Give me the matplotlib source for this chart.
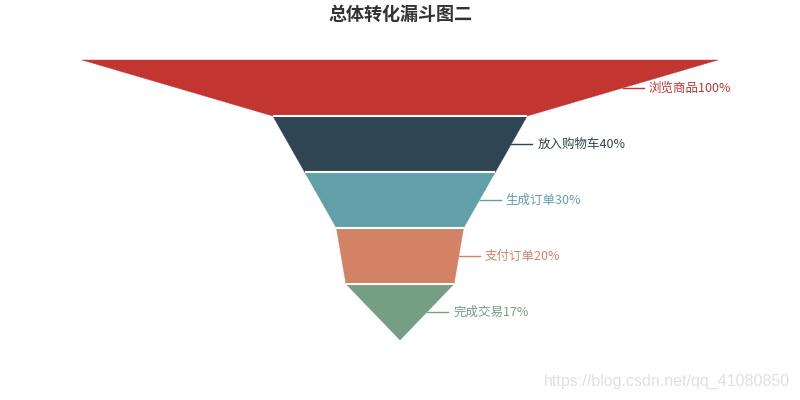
import matplotlib
matplotlib.use("Agg")
import matplotlib.pyplot as plt
from matplotlib.patches import Polygon

plt.rcParams['font.family'] = ['Noto Sans CJK SC', 'DejaVu Sans']

stages = ["浏览商品", "放入购物车", "生成订单", "支付订单", "完成交易"]
values = [100, 40, 30, 20, 17]
colors = ["#c23531", "#2f4554", "#61a0a8", "#d48265", "#749f83"]
title = "总体转化漏斗图二"
watermark = "https://blog.csdn.net/qq_41080850"

fig = plt.figure(figsize=(8, 4), dpi=100)
ax = fig.add_axes([0, 0, 1, 1])
ax.set_xlim(0, 800)
ax.set_ylim(400, 0)
ax.axis('off')

cx = 400.0
half_full = 318.0
top = 60.0
row_h = 56.0
n = len(values)
for i, (name, v, c) in enumerate(zip(stages, values, colors)):
    nxt = values[i + 1] if i + 1 < n else 0
    w_top = v / 100 * half_full
    w_bot = nxt / 100 * half_full
    y0 = top + i * row_h
    y1 = y0 + row_h
    poly = Polygon([(cx - w_top, y0), (cx + w_top, y0), (cx + w_bot, y1), (cx - w_bot, y1)],
                   closed=True, facecolor=c, edgecolor=c, linewidth=0.3)
    ax.add_patch(poly)
    if i > 0:
        ax.plot([cx - w_top, cx + w_top], [y0, y0], color='white', linewidth=1.5,
                solid_capstyle='butt', zorder=3)
    xm = cx + (w_top + w_bot) / 2
    ym = (y0 + y1) / 2
    ax.plot([xm, xm + 21], [ym, ym], color=c, linewidth=1)
    ax.text(xm + 26, ym, f"{name}{v}%", color=c, fontsize=9, va='center', ha='left')

ax.text(400, 14, title, fontsize=13, fontweight='bold', color='#333333', ha='center', va='center')
ax.text(790, 381, watermark, fontsize=11.5, color='#e0e0e0', ha='right', va='center',
        family=['Liberation Sans', 'DejaVu Sans'])

fig.savefig("out.png", dpi=100)
